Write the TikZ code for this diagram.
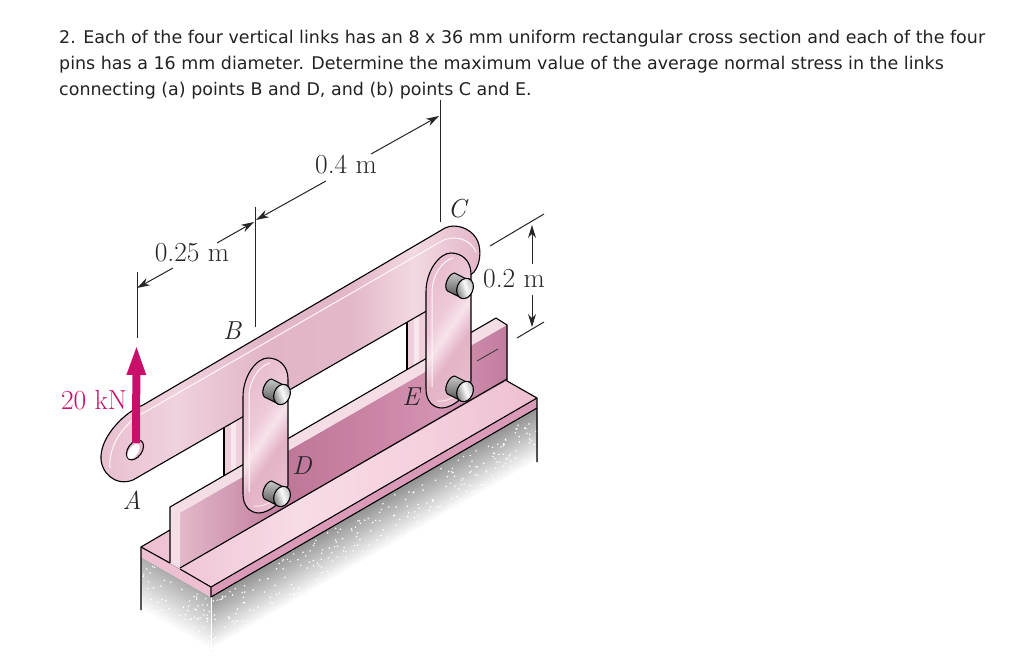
\documentclass[tikz,border=0pt]{standalone}
\usepackage{fontspec}
\usetikzlibrary{arrows.meta}
\newfontfamily\qfont{DejaVu Sans}
\definecolor{qtext}{HTML}{222222}
\definecolor{forcecol}{HTML}{C8106A}
\definecolor{plateedge}{HTML}{DB9BB8}
\definecolor{plateleft}{HTML}{EDBFD0}
\definecolor{webtop}{HTML}{F4DDE5}
\definecolor{stubcol}{HTML}{EFCFDB}
\definecolor{stubband}{HTML}{F8E8EE}
\pgfdeclarehorizontalshading{plateshade}{100bp}{rgb(0bp)=(.93,.75,.82); rgb(25bp)=(.93,.75,.82); rgb(45bp)=(.97,.86,.90); rgb(60bp)=(.96,.82,.87); rgb(75bp)=(.93,.75,.82); rgb(100bp)=(.93,.75,.82)}
\pgfdeclarehorizontalshading{barshade}{100bp}{rgb(0bp)=(.91,.75,.81); rgb(25bp)=(.91,.75,.81); rgb(35bp)=(.94,.82,.87); rgb(47bp)=(.88,.71,.78); rgb(58bp)=(.89,.72,.79); rgb(66bp)=(.95,.85,.88); rgb(75bp)=(.89,.71,.79); rgb(100bp)=(.89,.71,.79)}
\pgfdeclarehorizontalshading{linkshade}{100bp}{rgb(0bp)=(.91,.74,.81); rgb(25bp)=(.91,.74,.81); rgb(42bp)=(.93,.79,.85); rgb(50bp)=(.97,.89,.92); rgb(60bp)=(.89,.70,.78); rgb(75bp)=(.91,.74,.81); rgb(100bp)=(.91,.74,.81)}
\pgfdeclarehorizontalshading{webshade}{100bp}{rgb(0bp)=(.89,.72,.79); rgb(25bp)=(.89,.72,.79); rgb(33bp)=(.82,.60,.70); rgb(42bp)=(.75,.47,.60); rgb(55bp)=(.80,.52,.65); rgb(65bp)=(.83,.58,.70); rgb(75bp)=(.76,.49,.62); rgb(100bp)=(.76,.49,.62)}
\pgfdeclareverticalshading{pinside}{100bp}{rgb(0bp)=(.30,.30,.30); rgb(25bp)=(.30,.30,.30); rgb(50bp)=(.55,.55,.55); rgb(75bp)=(.78,.78,.78); rgb(100bp)=(.78,.78,.78)}
\pgfdeclarehorizontalshading{pinface}{100bp}{rgb(0bp)=(.50,.50,.50); rgb(25bp)=(.50,.50,.50); rgb(52bp)=(.98,.98,.98); rgb(75bp)=(.70,.70,.70); rgb(100bp)=(.70,.70,.70)}
\tikzset{
  x=1pt,y=-1pt,
  outl/.style={black,line width=1.1pt,line join=round},
  dimln/.style={black!85,line width=1pt},
  dimarr/.style={dimln,-{Stealth[length=13pt,width=8pt]}},
  qline/.style={anchor=base west,inner sep=0pt,text=qtext,font=\qfont\fontsize{17.47}{20}\selectfont},
  dimlab/.style={inner sep=0pt,text=black!85,font=\fontsize{27.5}{30}\selectfont\addfontfeature{FakeBold=0.4}},
  ptlab/.style={inner sep=0pt,text=black!85,font=\fontsize{26}{30}\selectfont\itshape\addfontfeature{FakeBold=0.4}},
  glint/.style={white!85!pink,line width=1pt,line cap=round},
}
\newcommand{\linkshape}{(243,397) .. controls (243,375) and (257,358) .. (268,358) .. controls (279,358) and (288,366) .. (288,379) -- (288,485) .. controls (288,498) and (270,513) .. (259,513) .. controls (250,513) and (243,506) .. (243,494) -- cycle}
\newcommand{\pinpeg}[2]{%
  \begin{scope}[shift={(#1,#2)}]
    \draw[outl,shading=pinside] (3.5,-9) -- (17.5,-2) -- (10.5,16) -- (-3.5,9) .. controls (-8,5) and (-3,-8) .. (3.5,-9) -- cycle;
    \draw[outl,shading=pinface,shading angle=20] (14,6.5) circle[x radius=8pt,y radius=10.5pt,rotate=-22];
  \end{scope}}
\newcommand{\crosslink}[1]{%
  \begin{scope}[shift={#1}]
    \draw[outl,shading=linkshade,shading angle=-35] \linkshape;
    \draw[glint] (249,492) -- (249,398) .. controls (249,380) and (259,366) .. (270,363);
    \draw[glint,white!60!pink] (254,506) .. controls (268,508) and (283,494) .. (285,486);
  \end{scope}}
% #1,#2 #3,#4: top edge of the face; #5: darkest grey
\newcommand{\concreteface}[5]{%
  \begin{scope}
    \clip (#1,#2) -- (#3,#4) -- (#3,#4+54) -- (#1,#2+54) -- cycle;
    \foreach \k in {0,...,26}{%
      \pgfmathsetmacro{\tt}{\k*2}
      \pgfmathsetmacro{\cc}{#5*(1-\k/26)}
      \fill[black!\cc] (#1,#2+\tt) -- (#3,#4+\tt) -- (#3,#4+60) -- (#1,#2+60) -- cycle;
    }
  \end{scope}
  \fill[white] (#1,#2+53) -- (#3,#4+53) -- (#3,#4+60) -- (#1,#2+60) -- cycle;}
\begin{document}
\begin{tikzpicture}
\useasboundingbox (0,0) rectangle (1024,668);
\fill[white] (0,0) rectangle (1024,668);
% question text
\node[qline] (l1) at (59,43.5) {2. Each of the four vertical links has an 8 x 36 mm uniform rectangular cross section and each of the four};
\node[qline] (l2) at (59,69.5) {pins has a 16 mm diameter. Determine the maximum value of the average normal stress in the links};
\node[qline] (l3) at (59,95.5) {connecting (a) points B and D, and (b) points C and E.};
% concrete
\concreteface{211}{597}{537}{408}{42}
\concreteface{141}{557}{211}{597}{32}
\pgfmathsetseed{4711}
\foreach \i in {1,...,260}{%
  \pgfmathsetmacro{\ss}{rnd}\pgfmathsetmacro{\tt}{rnd*44}
  \fill[white] (212+325*\ss,597-189*\ss+\tt+3) circle[radius=.85pt];
}
\foreach \i in {1,...,60}{%
  \pgfmathsetmacro{\ss}{rnd}\pgfmathsetmacro{\tt}{rnd*44}
  \fill[white] (142+69*\ss,557+40*\ss+\tt+3) circle[radius=.85pt];
}
\draw[white,line width=1pt] (211,597) -- (211,650);
% plate
\fill[plateleft] (141,547) -- (211,587) -- (211,597) -- (141,557) -- cycle;
\fill[plateedge] (211,587) -- (537,398) -- (537,408) -- (211,597) -- cycle;
\fill[shading=plateshade] (141,547) -- (170,530) -- (507,381) -- (537,398) -- (211,587) -- cycle;
\draw[outl] (141,610) -- (141,547) -- (170,530);
\draw[outl] (141,547) -- (170,563);
\draw[outl] (180,569) -- (211,587) -- (537,398) -- (537,462);
\draw[outl] (211,587) -- (211,597) -- (537,408);
\draw[outl] (507,381) -- (537,398);
% rear links (stubs)
\foreach \dx/\dy in {0/0,183/-105}{%
  \begin{scope}[shift={(\dx,\dy)}]
    \fill[stubcol] (224,428) -- (243,417) -- (243,475) -- (224,485) -- cycle;
    \fill[stubband] (231,424) -- (236,421) -- (236,478) -- (231,481) -- cycle;
    \draw[outl] (224,426) -- (224,480);
  \end{scope}
}
% web
\fill[shading=webshade] (180,513) -- (507,325) -- (507,380) -- (180,568) -- cycle;
\fill[webtop] (170,507) -- (180,513) -- (180,568) -- (170,563) -- cycle;
\fill[webtop] (170,507) -- (496,318) -- (507,325) -- (180,513) -- cycle;
\draw[outl] (170,563) -- (170,507) -- (496,318) -- (507,325) -- (507,381);
\draw[outl] (180,568) -- (507,379);
\draw[black!75,line width=.9pt] (477,361) -- (498,349);
% upper bar
\draw[outl,shading=barshade] (143,405) .. controls (125,412) and (102,435) .. (101,456) .. controls (100,472) and (115,487) .. (133,480) -- (430,309) -- (474,272) .. controls (482,262) and (481,245) .. (476,238) .. controls (470,228) and (455,223) .. (445,228) -- cycle;
\draw[glint] (110,468) .. controls (108,445) and (125,421) .. (147,411) -- (440,242) .. controls (452,234) and (470,238) .. (476,252);
% hole at A
\draw[outl,fill=plateedge!70!white] (135,450) circle[x radius=7pt,y radius=11pt,rotate=-35];
\fill[white] (133.5,451.5) circle[x radius=4.5pt,y radius=8.5pt,rotate=-35];
% vertical links and pins
\crosslink{(0,0)}
\pinpeg{268}{388}
\pinpeg{268}{490}
\crosslink{(183,-105)}
\pinpeg{451}{282}
\pinpeg{451}{385}
% dimension lines
\coordinate (e1a) at (137,272); \coordinate (e1b) at (137,338);
\coordinate (e2a) at (255,207); \coordinate (e2b) at (255,327);
\coordinate (e3a) at (440,100); \coordinate (e3b) at (440,222);
\coordinate (e4a) at (490,246); \coordinate (e4b) at (544,214);
\coordinate (e5a) at (517,338); \coordinate (e5b) at (544,322);
\draw[dimln] (e1a) -- (e1b);
\draw[dimln] (e2a) -- (e2b);
\draw[dimln] (e3a) -- (e3b);
\draw[dimln] (e4a) -- (e4b);
\draw[dimln] (e5a) -- (e5b);
\node[dimlab] (d25) at (192,253) {0.25 m};
\node[dimlab] (d40) at (346,165) {0.4 m};
\node[dimlab] (d20) at (514,279) {0.2 m};
\coordinate (a1) at (173,268); \coordinate (a1t) at (137,288);
\coordinate (a2) at (217,243); \coordinate (a2t) at (254,222);
\coordinate (a3) at (326,181); \coordinate (a3t) at (256,220);
\coordinate (a4) at (371,154); \coordinate (a4t) at (439,116);
\coordinate (a5) at (532,264); \coordinate (a5t) at (532,225);
\coordinate (a6) at (532,295); \coordinate (a6t) at (532,327);
\draw[dimarr] (a1) -- (a1t);
\draw[dimarr] (a2) -- (a2t);
\draw[dimarr] (a3) -- (a3t);
\draw[dimarr] (a4) -- (a4t);
\draw[dimarr] (a5) -- (a5t);
\draw[dimarr] (a6) -- (a6t);
% force
\coordinate (f0) at (136,443); \coordinate (f1) at (136.5,344);
\draw[forcecol,line width=8pt,-{Triangle[length=31pt,width=17pt]}] (f0) -- (f1);
% labels
\node[dimlab,text=forcecol] (force) at (94,400) {20 kN};
\node[ptlab] (A) at (132,500) {A};
\node[ptlab] (B) at (232,331) {B};
\node[ptlab] (C) at (457,209) {C};
\node[ptlab] (D) at (302,466) {D};
\node[ptlab] (E) at (411,397) {E};
\end{tikzpicture}
\end{document}
